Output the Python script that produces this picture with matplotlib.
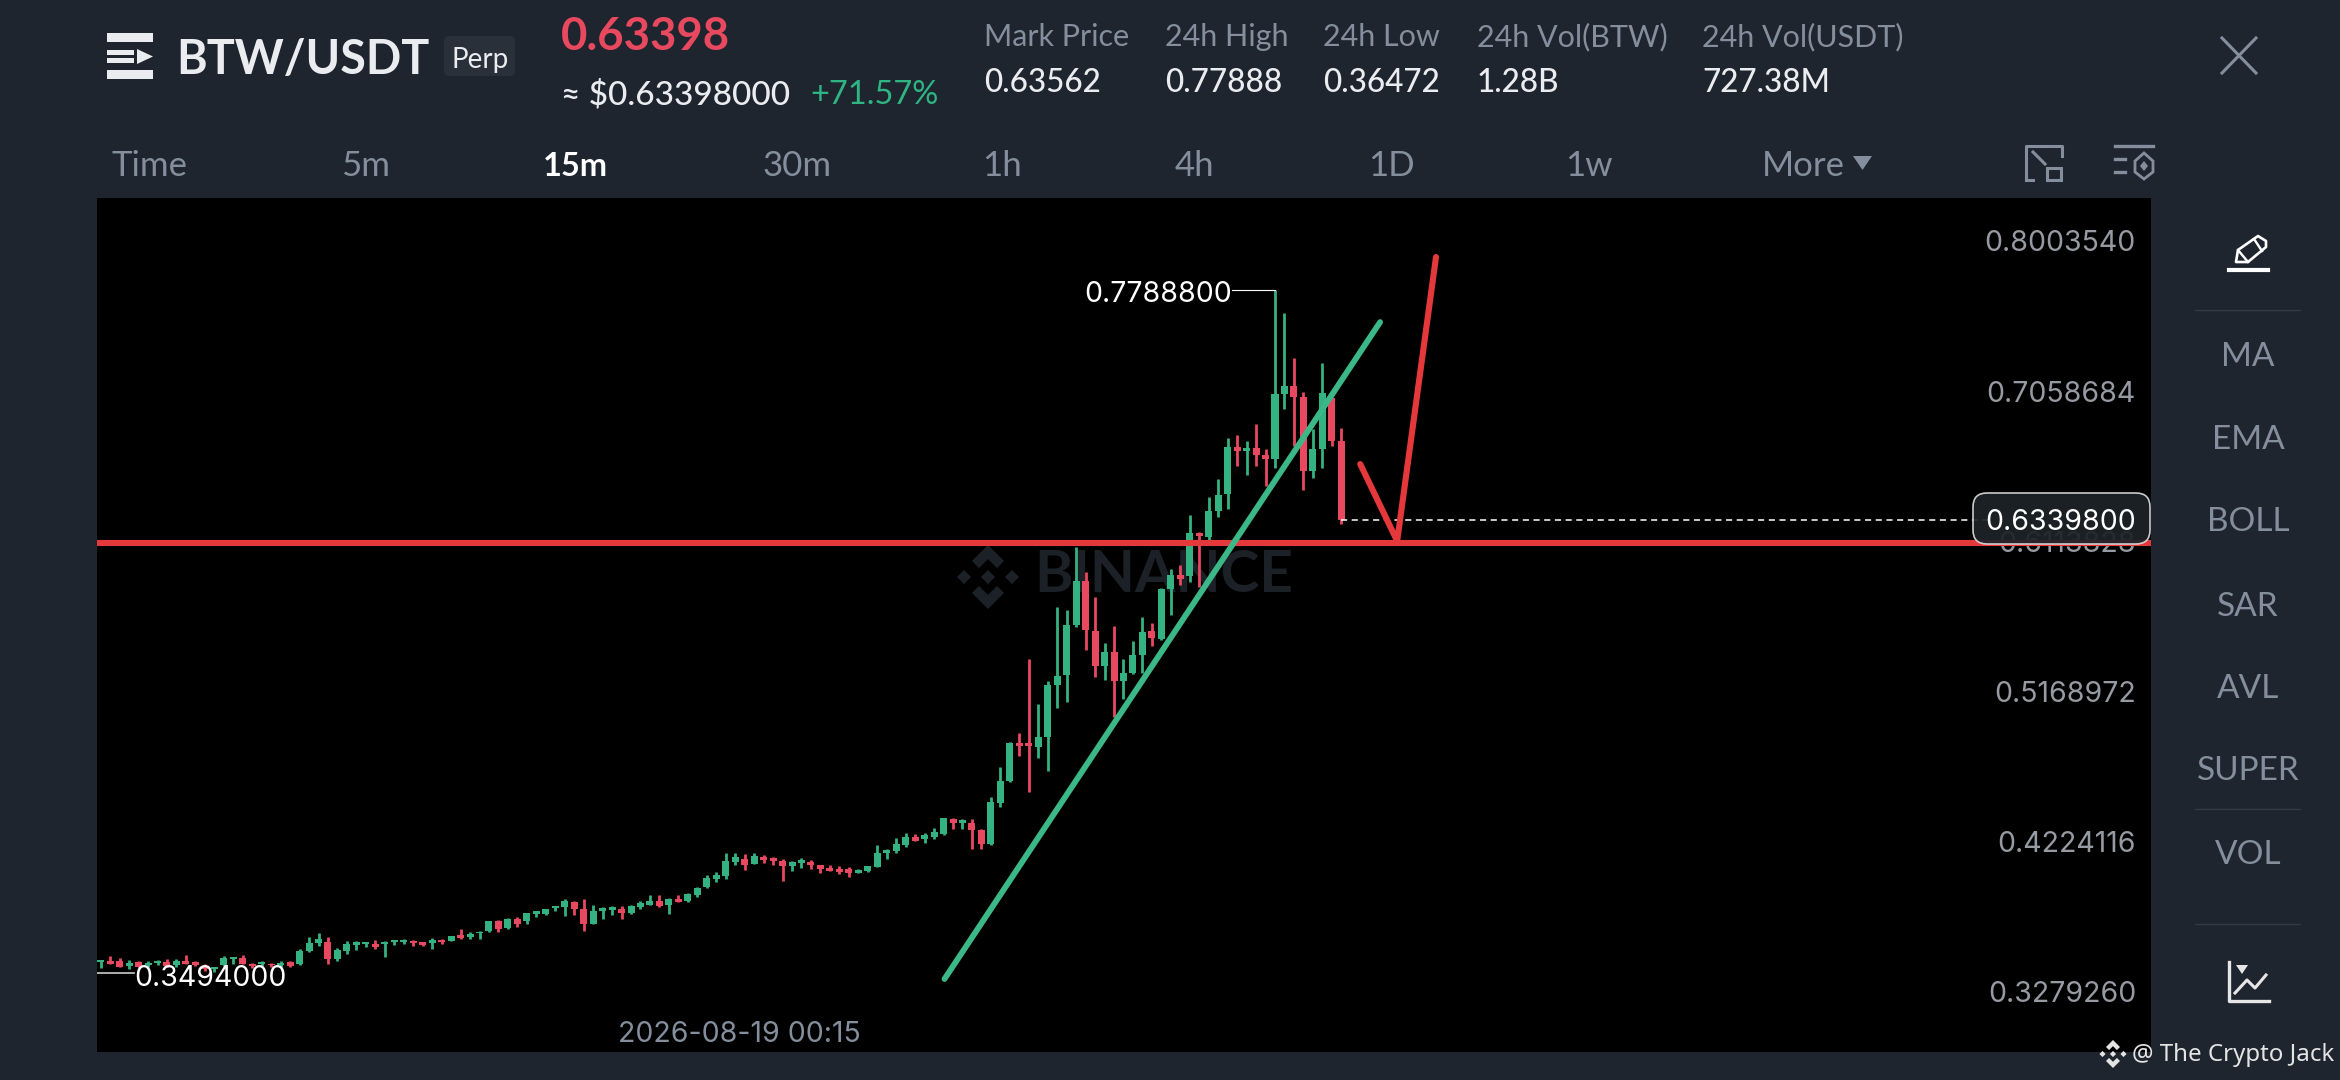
"""
Recreation of a BTW/USDT 15m candlestick screen.
"""

import matplotlib
matplotlib.use("Agg")
import matplotlib.pyplot as plt
from matplotlib.patches import FancyBboxPatch, Polygon, Rectangle
from matplotlib.transforms import ScaledTranslation

plt.rcParams["font.family"] = ["Lato", "DejaVu Sans"]

BG = "#1f252f"
GREY = "#848e9c"
WHITE = "#eaecef"
GREEN = "#35b282"
RED = "#e8495f"
LINE_GREEN = "#3cb787"
LINE_RED = "#e5383b"
CHART_FONT = ["Inter", "DejaVu Sans"]

opens = [
    .3559, .3570, .3570, .3534, .3559, .3545, .3557, .3562, .3541, .3570, .3559, .3536,
    .3520, .3545, .3583, .3585, .3551, .3547, .3551, .3543, .3559, .3547, .3631, .3679,
    .3685, .3578, .3633, .3666, .3675, .3677, .3675, .3685, .3687, .3696, .3685, .3679,
    .3702, .3696, .3729, .3721, .3742, .3755, .3822, .3775, .3830, .3822, .3864, .3864,
    .3902, .3906, .3939, .3897, .3803, .3883, .3889, .3897, .3872, .3910, .3918, .3948,
    .3920, .3956, .3944, .3985, .4032, .4086, .4103, .4191, .4212, .4178, .4225, .4216,
    .4199, .4166, .4183, .4191, .4170, .4153, .4149, .4145, .4124, .4132, .4162, .4246,
    .4262, .4300, .4346, .4337, .4346, .4367, .4459, .4434, .4438, .4392, .4302, .4564,
    .4702, .4937, .4937, .4916, .4975, .5306, .5365, .5680, .5956, .5646, .5426, .5512,
    .5327, .5378, .5495, .5642, .5596, .5906, .5998, .5990, .6258, .6237, .6401, .6506,
    .6799, .6778, .6795, .6753, .6724, .7135, .7185, .7114, .6648, .6787, .7108, .6841,
]
highs = [
    .3574, .3599, .3587, .3574, .3568, .3570, .3574, .3578, .3583, .3604, .3568, .3549,
    .3532, .3599, .3595, .3606, .3553, .3570, .3553, .3566, .3570, .3641, .3717, .3746,
    .3717, .3650, .3692, .3692, .3690, .3700, .3696, .3700, .3704, .3700, .3687, .3713,
    .3704, .3727, .3771, .3750, .3757, .3822, .3826, .3838, .3843, .3872, .3885, .3897,
    .3914, .3960, .3944, .3956, .3923, .3910, .3914, .3914, .3918, .3946, .3983, .3985,
    .3964, .3981, .3998, .4032, .4107, .4128, .4250, .4246, .4241, .4246, .4233, .4225,
    .4208, .4195, .4216, .4204, .4172, .4170, .4166, .4157, .4145, .4166, .4296, .4275,
    .4342, .4371, .4367, .4375, .4402, .4470, .4470, .4463, .4459, .4396, .4597, .4786,
    .4946, .5000, .5470, .5185, .5331, .5797, .5776, .6170, .6017, .5860, .5566, .5675,
    .5466, .5583, .5730, .5696, .5914, .6032, .6057, .6376, .6267, .6489, .6598, .6856,
    .6879, .6841, .6946, .6787, .7789, .7642, .7361, .7150, .6913, .7328, .7118, .6921,
]
lows = [
    .3524, .3549, .3528, .3515, .3524, .3532, .3541, .3528, .3528, .3549, .3536, .3503,
    .3499, .3536, .3549, .3549, .3522, .3536, .3528, .3528, .3532, .3543, .3627, .3662,
    .3549, .3566, .3612, .3637, .3654, .3641, .3591, .3666, .3675, .3662, .3662, .3645,
    .3675, .3696, .3706, .3706, .3706, .3750, .3748, .3771, .3784, .3801, .3843, .3860,
    .3885, .3851, .3858, .3759, .3801, .3830, .3860, .3834, .3864, .3897, .3918, .3906,
    .3864, .3939, .3939, .3973, .4029, .4065, .4082, .4170, .4141, .4178, .4187, .4174,
    .4071, .4132, .4153, .4149, .4124, .4132, .4115, .4099, .4120, .4130, .4157, .4212,
    .4246, .4283, .4321, .4312, .4333, .4361, .4398, .4398, .4270, .4270, .4296, .4539,
    .4694, .4858, .4633, .4843, .4761, .5157, .5199, .5671, .5524, .5357, .5336, .5105,
    .5214, .5373, .5378, .5550, .5587, .5747, .5935, .5952, .5919, .6216, .6363, .6414,
    .6682, .6627, .6682, .6556, .6669, .7043, .6808, .6531, .6606, .6669, .6808, .6317,
]
closes = [
    .3574, .3549, .3528, .3555, .3532, .3557, .3570, .3536, .3570, .3549, .3545, .3515,
    .3532, .3587, .3595, .3549, .3539, .3559, .3543, .3555, .3536, .3633, .3683, .3704,
    .3580, .3637, .3673, .3687, .3690, .3658, .3687, .3700, .3700, .3679, .3671, .3700,
    .3687, .3725, .3710, .3738, .3752, .3817, .3771, .3834, .3801, .3868, .3881, .3895,
    .3912, .3944, .3893, .3801, .3881, .3902, .3906, .3872, .3914, .3933, .3944, .3914,
    .3956, .3939, .3988, .4027, .4090, .4109, .4195, .4225, .4174, .4229, .4204, .4195,
    .4166, .4189, .4204, .4170, .4149, .4132, .4128, .4120, .4141, .4164, .4246, .4266,
    .4304, .4350, .4325, .4358, .4377, .4465, .4434, .4455, .4392, .4302, .4566, .4702,
    .4941, .4920, .4920, .4975, .5304, .5361, .5680, .5956, .5650, .5426, .5512, .5327,
    .5382, .5493, .5640, .5600, .5906, .5998, .5973, .6258, .6244, .6401, .6500, .6799,
    .6778, .6795, .6753, .6724, .7135, .7185, .7114, .6648, .6787, .7143, .6841, .6340,
]

y_ticks = [0.800354, 0.7058684, 0.6113828, 0.5168972, 0.4224116, 0.327926]
last_price = 0.63398
high_price = 0.77888
low_price = 0.3494
support = 0.6195

trend_x = [89.1, 135.1]
trend_y = [0.3455, 0.7587]
path_x = [133.0, 136.9, 141.0]
path_y = [0.6694, 0.6210, 0.7996]

stat_names = ["Mark Price", "24h High", "24h Low", "24h Vol(BTW)", "24h Vol(USDT)"]
stat_values = ["0.63562", "0.77888", "0.36472", "1.28B", "727.38M"]
stat_x = [984, 1165, 1323, 1477, 1702]
periods = ["Time", "5m", "15m", "30m", "1h", "4h", "1D", "1w", "More"]
period_x = [112, 341, 543, 762, 982, 1175, 1368, 1565, 1762]
side_items = ["MA", "EMA", "BOLL", "SAR", "AVL", "SUPER", "VOL"]
side_y = [354, 437, 519, 604, 686, 768, 852]


def binance_logo(ax, cx, cy, s, color, **kw):
    """Five piece diamond logo, in the pixel space of ax."""
    top = [(0, -1), (.5, -.5), (.28, -.28), (0, -.56), (-.28, -.28), (-.5, -.5)]
    bottom = [(x, -y) for x, y in top]
    pieces = [top, bottom]
    for ox in (-.75, 0, .75):
        pieces.append([(ox, -.22), (ox + .22, 0), (ox, .22), (ox - .22, 0)])
    for piece in pieces:
        pts = [(cx + x * s, cy + y * s) for x, y in piece]
        ax.add_patch(Polygon(pts, closed=True, facecolor=color, edgecolor="none", **kw))


fig = plt.figure(figsize=(23.4, 10.8), dpi=100, facecolor=BG)

chart = fig.add_axes([97 / 2340, 28 / 1080, 2054 / 2340, 854 / 1080], facecolor="black", zorder=1)
ui = fig.add_axes([0, 0, 1, 1], zorder=2)
ui.set_xlim(0, 2340)
ui.set_ylim(1080, 0)
ui.axis("off")


def label(x, y, s, **kw):
    # Lato sits a little high with va=center
    return ui.text(x, y + 6, s, va="center", **kw)


# faint watermark sits under the candles
binance_logo(chart, 988, 577, 32, "#1c2027", transform=ui.transData, zorder=0.5)
chart.text(1034, 576, "BINANCE", transform=ui.transData, color="#1c2027", fontsize=42,
           fontweight="bold", va="center", ha="left", zorder=0.6)

for i in range(len(opens)):
    col = GREEN if closes[i] >= opens[i] else RED
    chart.vlines(i, lows[i], highs[i], color=col, lw=2.0, zorder=2)
    chart.bar(i, abs(closes[i] - opens[i]), bottom=min(opens[i], closes[i]), width=0.74,
              color=col, zorder=2.1)

chart.set_xlim(-0.39, 216.5)
chart.set_ylim(0.29958, 0.83675)
chart.set_xticks([])
chart.set_yticks(y_ticks, [f"{v:.7f}" for v in y_ticks])
chart.yaxis.tick_right()
chart.tick_params(axis="y", length=0, pad=-10.8, labelsize=20.5, labelcolor="#969aa2")
for lab in chart.get_yticklabels():
    lab.set_ha("right")
    lab.set_va("center")
    lab.set_family(CHART_FONT)
    lab.set_transform(lab.get_transform() + ScaledTranslation(0, 12 / 100, fig.dpi_scale_trans))
for sp in chart.spines.values():
    sp.set_visible(False)

# drawn analysis lines
chart.axhline(support, color=LINE_RED, lw=4.4, zorder=4)
chart.plot(trend_x, trend_y, color=LINE_GREEN, lw=4.2, solid_capstyle="round", zorder=4)
chart.plot(path_x, path_y, color=LINE_RED, lw=4.4, solid_capstyle="round", solid_joinstyle="round", zorder=4)

# last price line and high / low callouts
chart.plot([len(opens) - 1, 199.6], [last_price, last_price], color="white", lw=1.1,
           dashes=(4, 3), zorder=3)
chart.plot([119.5, 124], [high_price, high_price], color="white", lw=0.8, zorder=3)
chart.plot([-0.39, 3.5], [low_price, low_price], color="#cccccc", lw=1.2, zorder=3)
chart.text(1232, 294, "0.7788800", transform=ui.transData, color="white", fontsize=20.5,
           family=CHART_FONT, ha="right", va="center", zorder=5)
chart.text(134, 978, "0.3494000", transform=ui.transData, color="white", fontsize=20.5,
           family=CHART_FONT, ha="left", va="center", zorder=5)
chart.text(618, 1035, "2026-08-19 00:15", transform=ui.transData, color=GREY, fontsize=20.5,
           family=CHART_FONT, ha="left", va="center", zorder=5)

ui.add_patch(FancyBboxPatch((1985, 505), 153, 27, boxstyle="round,pad=12,rounding_size=14",
                            facecolor="#1e2329", edgecolor="#d8d8d8", lw=1.2, alpha=0.93))
ui.text(2136, 523, "0.6339800", color="white", fontsize=20.5, family=CHART_FONT, ha="right", va="center")

# header
ui.add_patch(Rectangle((107, 33), 46, 9, color=WHITE, lw=0))
ui.add_patch(Rectangle((107, 70), 46, 9, color=WHITE, lw=0))
ui.add_patch(Rectangle((107, 50), 27, 5, color=WHITE, lw=0))
ui.add_patch(Rectangle((107, 58), 27, 5, color=WHITE, lw=0))
ui.add_patch(Polygon([(137, 49), (153, 56.5), (137, 64)], color=WHITE, lw=0))
label(176, 54, "BTW/USDT", color=WHITE, fontsize=33.6, fontweight="bold")
ui.add_patch(FancyBboxPatch((450, 42), 59, 28, boxstyle="round,pad=6,rounding_size=5",
                            facecolor="#2a303a", edgecolor="none"))
label(480, 54, "Perp", color=WHITE, fontsize=20, ha="center")
label(561, 31, "0.63398", color=RED, fontsize=32.8, fontweight="bold")
label(561, 89, "≈ $0.63398000", color=WHITE, fontsize=24, fontweight="medium")
label(810, 89, "+71.57%", color="#2fb583", fontsize=23.5)
for x, name, value in zip(stat_x, stat_names, stat_values):
    label(x, 31, name, color=GREY, fontsize=22)
    label(x, 77, value, color=WHITE, fontsize=22.7, fontweight="medium")
ui.plot([2222, 2256], [38, 73], color=GREY, lw=2.2)
ui.plot([2222, 2256], [73, 38], color=GREY, lw=2.2)

# period row
for x, name in zip(period_x, periods):
    active = name == "15m"
    label(x, 160, name, color="white" if active else GREY, fontsize=23.5 if active else 25,
          fontweight="bold" if active else "normal")
ui.add_patch(Polygon([(1853, 156), (1872, 156), (1862.5, 170)], color=GREY, lw=0))

# expand and settings icons
ui.plot([2044, 2026, 2026], [146, 146, 180], color=GREY, lw=2.2)
ui.plot([2026, 2033], [180, 180], color=GREY, lw=2.2)
ui.plot([2044, 2062, 2062], [146, 146, 156], color=GREY, lw=2.2)
ui.plot([2033, 2045], [152, 164], color=GREY, lw=2.2)
ui.add_patch(Rectangle((2047, 168), 14, 12, fill=False, edgecolor=GREY, lw=2.2))
ui.plot([2115, 2153], [146, 146], color=GREY, lw=2.4)
ui.plot([2115, 2125], [159, 159], color=GREY, lw=2.4)
ui.plot([2115, 2125], [172, 172], color=GREY, lw=2.4)
ui.add_patch(Polygon([(2144, 153), (2153, 161), (2153, 172), (2144, 179), (2135, 172), (2135, 161)],
                     fill=False, edgecolor=GREY, lw=2.0))
ui.add_patch(Polygon([(2144, 161), (2148, 166), (2144, 171), (2140, 166)], color=GREY, lw=0))

# side panel
for y, name in zip(side_y, side_items):
    label(2248, y - 3, name, color=GREY, fontsize=24, ha="center")
for y in [310, 809, 924]:
    ui.plot([2195, 2300], [y, y], color="#333a45", lw=1)

ui.plot([2229, 2268], [270, 270], color="white", lw=3)
ui.add_patch(Polygon([(2236, 262), (2238, 250), (2258, 236), (2266, 241), (2266, 247), (2248, 262)],
                     fill=False, edgecolor="white", lw=1.9, joinstyle="round"))
ui.plot([2238, 2248], [250, 262], color="white", lw=1.7)
ui.plot([2254, 2262], [239, 251], color="white", lw=1.7)

ui.plot([2229, 2229, 2269], [962, 1001, 1001], color="#e6e6e6", lw=2.4)
ui.plot([2235, 2247, 2255, 2266], [993, 980, 988, 975], color="#e6e6e6", lw=2.2)
ui.add_patch(Polygon([(2236, 965), (2248, 965), (2242, 974)], color="#e6e6e6", lw=0))

# credit
binance_logo(ui, 2113, 1054, 14, "#e4e4e4")
ui.text(2132, 1055, "@ The Crypto Jack", color="#e4e4e4", fontsize=17.3,
        family=["Noto Sans", "DejaVu Sans"], va="center")

fig.savefig("out.png", dpi=100, facecolor=BG)
